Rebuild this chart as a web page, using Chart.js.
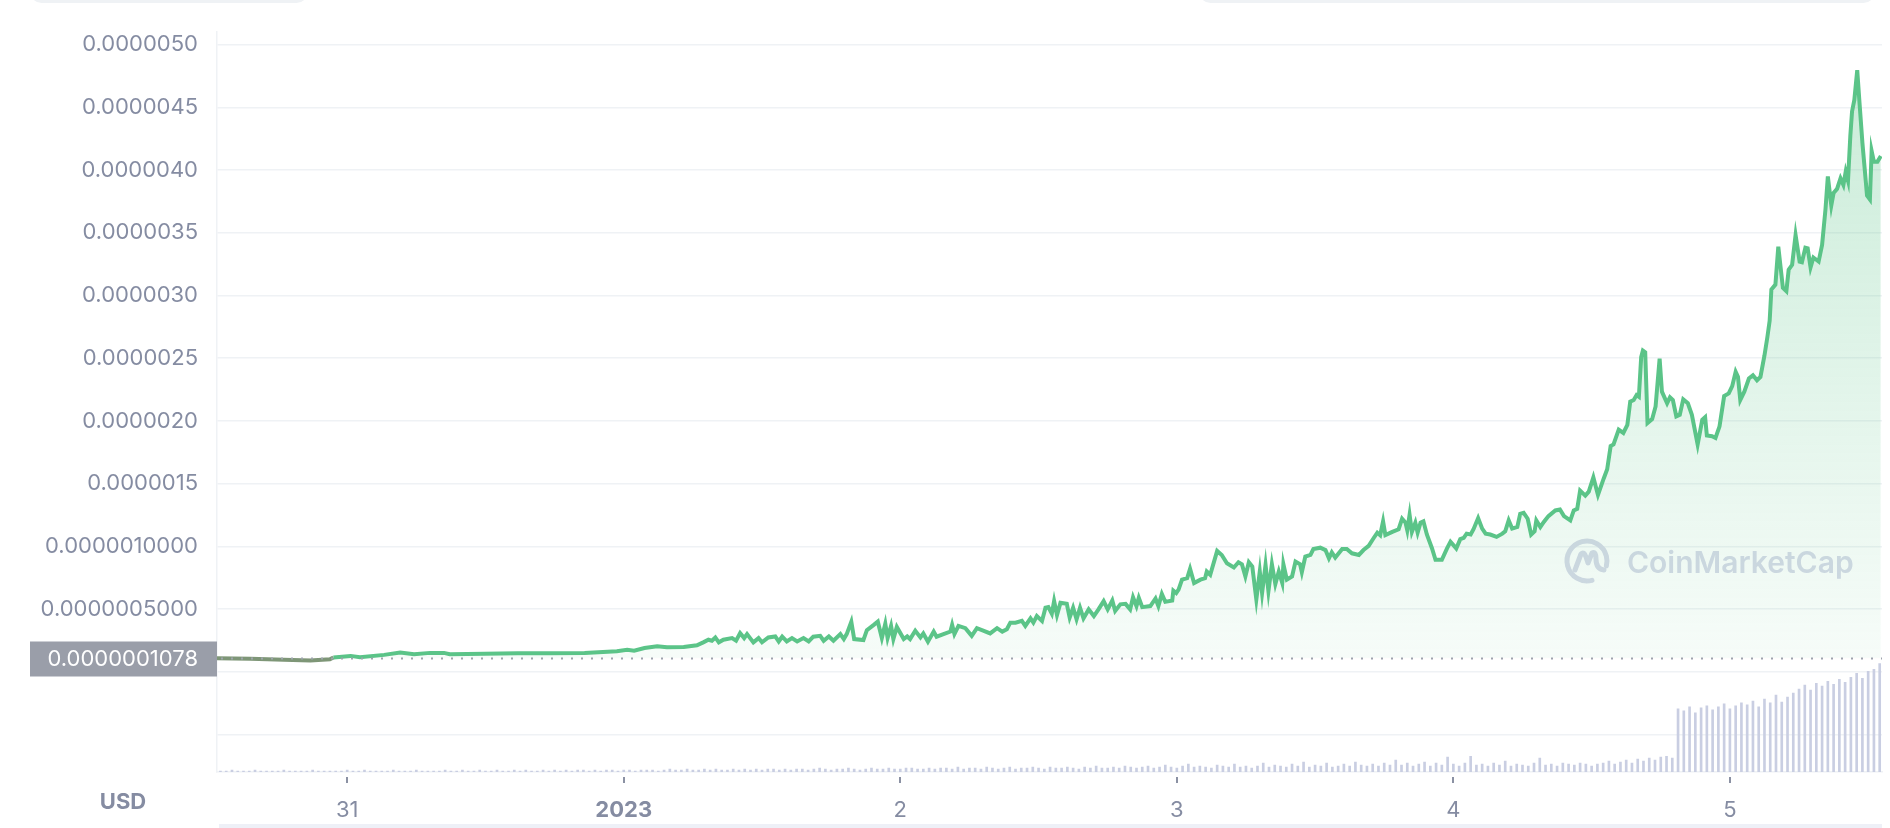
<!DOCTYPE html>
<html>
<head>
<meta charset="utf-8">
<script src="https://cdn.jsdelivr.net/npm/chart.js@4.4.0/dist/chart.umd.min.js"></script>
<style>
  body { margin: 0; background: #fff; overflow: hidden; }
  #wrap { position: relative; width: 1890px; height: 828px; }
  canvas { position: absolute; left: 0; top: 0; }
  .pill { position: absolute; top: -20px; height: 23px; background: #eff2f5; border-radius: 12px; }
  .slider { position: absolute; left: 219px; top: 824px; width: 1663px; height: 4px; background: #eef0f7; }
</style>
</head>
<body>
<div id="wrap">
  <div class="pill" style="left:30px;width:278px"></div>
  <div class="pill" style="left:1199px;width:676px"></div>
  <div class="slider"></div>
  <canvas id="priceChart" width="1890" height="828"></canvas>
</div>
<script>
// price in units of 1e-7 USD, time in hours from Dec 31 00:00
const basePrice = 1.078;
const basePriceLabel = '0.0000001078';

const hours = [
  -11.3, -8.4, -5.5, -3.2, -1.5, -1.2, 0.3, 1.1, 3.2, 4.6, 5.8, 7.2, 8.4, 8.9, 11.9, 14.8, 17.6, 20.6,
  23.4, 24.3, 24.9, 25.8, 26.9, 27.75, 29.2, 30.35, 30.9, 31.35, 31.65, 31.95, 32.25, 32.65, 33.4, 33.75,
  34.1, 34.45, 34.7, 35.25, 35.7, 36.0, 36.55, 37.15, 37.45, 37.75, 38.15, 38.6, 39.05, 39.6, 40.05, 40.45,
  41.05, 41.35, 41.8, 42.2, 42.8, 43.1, 43.35, 43.75, 44.0, 44.8, 45.1, 45.7, 46.05, 46.4, 46.7, 46.9,
  47.2, 47.4, 47.7, 48.3, 48.6, 48.85, 49.3, 49.75, 50.0, 50.4, 50.9, 51.15, 51.75, 52.35, 52.5, 52.7,
  53.05, 53.65, 54.2, 54.65, 55.25, 55.8, 56.4, 56.85, 57.25, 57.55, 58.0, 58.55, 58.85, 59.3, 59.55, 59.85,
  60.3, 60.6, 60.85, 61.15, 61.35, 61.6, 61.9, 62.45, 62.7, 63.0, 63.3, 63.6, 63.9, 64.35, 64.8, 65.2,
  65.65, 66.0, 66.4, 66.65, 67.1, 67.55, 67.95, 68.2, 68.5, 68.7, 69.0, 69.7, 70.15, 70.4, 70.7, 71.0,
  71.6, 71.7, 71.95, 72.15, 72.45, 72.9, 73.15, 73.5, 74.05, 74.45, 74.6, 74.9, 75.5, 75.9, 76.35, 76.95,
  77.35, 77.65, 77.95, 78.25, 78.55, 78.9, 79.2, 79.4, 79.7, 79.95, 80.25, 80.55, 80.85, 81.15, 81.25, 81.55,
  82.0, 82.3, 82.7, 82.85, 83.15, 83.6, 83.85, 84.45, 84.9, 85.2, 85.45, 85.75, 86.35, 86.75, 87.2, 87.8,
  88.2, 88.65, 89.1, 89.4, 89.65, 89.9, 90.1, 90.7, 91.25, 91.55, 91.85, 92.0, 92.2, 92.4, 92.7, 92.9,
  93.15, 93.4, 93.7, 94.15, 94.45, 95.0, 95.45, 95.75, 96.25, 96.6, 96.9, 97.15, 97.5, 97.75, 98.15, 98.5,
  98.8, 99.2, 99.75, 100.25, 100.5, 100.8, 101.1, 101.55, 101.8, 102.1, 102.45, 102.75, 103.05, 103.2, 103.55, 103.85,
  104.25, 104.85, 105.25, 105.6, 106.15, 106.45, 106.75, 107.0, 107.45, 107.75, 108.15, 108.55, 109.05, 109.35, 109.65, 109.9,
  110.35, 110.75, 111.1, 111.35, 111.65, 111.9, 112.1, 112.3, 112.45, 112.65, 112.85, 113.25, 113.55, 113.9, 114.1, 114.55,
  114.8, 115.05, 115.35, 115.65, 115.95, 116.35, 116.7, 117.2, 117.6, 117.85, 118.0, 118.45, 118.75, 119.1, 119.5, 119.9,
  120.2, 120.5, 120.7, 120.9, 121.25, 121.65, 122.0, 122.35, 122.65, 123.0, 123.25, 123.45, 123.6, 123.95, 124.2, 124.6,
  124.9, 125.1, 125.4, 125.7, 126.05, 126.25, 126.55, 126.75, 127.0, 127.25, 127.7, 128.0, 128.3, 128.5, 128.8, 129.0,
  129.3, 129.6, 129.85, 130.05, 130.25, 130.45, 130.6, 130.8, 131.05, 131.25, 131.5, 131.7, 131.9, 132.15, 132.3, 132.5,
  132.8, 133.1
];

const price = [
  1.078, 1.03, 0.95, 0.89, 0.99, 1.13, 1.26, 1.15, 1.34, 1.52, 1.39, 1.50, 1.50, 1.39, 1.44, 1.47, 1.47, 1.50,
  1.63, 1.74, 1.68, 1.89, 2.02, 1.94, 1.97, 2.10, 2.34, 2.55, 2.47, 2.73, 2.34, 2.55, 2.68, 2.47,
  3.08, 2.68, 3.00, 2.34, 2.68, 2.34, 2.73, 2.81, 2.41, 2.79, 2.41, 2.68, 2.41, 2.68, 2.41, 2.79,
  2.86, 2.47, 2.81, 2.47, 3.00, 2.60, 3.00, 3.99, 2.60, 2.52, 3.31, 3.73, 3.99, 2.68, 3.83, 2.68,
  3.65, 2.60, 3.57, 2.60, 2.81, 2.60, 3.26, 2.73, 3.05, 2.39, 3.20, 2.79, 3.00, 3.20, 3.73, 3.00,
  3.65, 3.47, 2.86, 3.47, 3.26, 3.05, 3.47, 3.20, 3.39, 3.91, 3.91, 4.05, 3.65, 4.26, 3.91, 4.44,
  4.05, 5.10, 5.15, 4.62, 5.63, 4.52, 5.49, 5.41, 4.31, 5.10, 4.18, 5.10, 4.26, 4.97, 4.44, 4.97,
  5.63, 4.97, 5.68, 4.84, 5.37, 5.41, 4.97, 5.94, 5.23, 5.89, 5.15, 5.23, 5.84, 5.23, 6.20, 5.57,
  5.68, 6.47, 6.28, 6.55, 7.34, 7.46, 8.21, 7.07, 7.34, 7.46, 7.99, 7.73, 9.63, 9.31, 8.65, 8.31,
  8.73, 8.57, 7.60, 8.73, 8.39, 5.76, 7.99, 6.28, 8.52, 6.41, 8.57, 6.99, 7.99, 7.07, 8.57, 7.34,
  7.60, 8.78, 8.57, 7.94, 9.18, 9.31, 9.78, 9.89, 9.70, 9.04, 9.52, 9.10, 9.78, 9.78, 9.44, 9.31,
  9.70, 10.04, 10.68, 11.09, 10.89, 11.99, 10.89, 11.15, 11.36, 12.20, 11.88, 11.28, 12.51, 11.15, 11.88, 11.09,
  11.88, 11.99, 10.94, 9.83, 8.92, 8.92, 9.83, 10.36, 9.83, 10.57, 10.68, 11.01, 10.94, 11.36, 12.25, 11.41,
  11.01, 10.94, 10.75, 11.01, 11.20, 12.07, 11.41, 11.54, 12.59, 12.67, 12.20, 10.94, 11.20, 12.07, 11.54, 11.94,
  12.41, 12.86, 12.94, 12.41, 12.07, 12.86, 12.99, 14.44, 14.04, 14.36, 15.49, 14.09, 15.41, 16.14, 17.99, 18.12,
  19.30, 19.04, 19.69, 21.54, 21.67, 22.06, 21.93, 25.09, 25.61, 25.48, 19.83, 20.14, 21.15, 24.96, 22.33, 21.41,
  21.88, 21.67, 20.36, 20.48, 21.72, 21.41, 20.48, 18.12, 20.09, 20.30, 18.83, 18.78, 18.64, 19.57, 21.98, 22.19,
  22.77, 23.91, 23.51, 21.67, 22.33, 23.38, 23.64, 23.24, 23.51, 25.22, 26.67, 27.98, 30.48, 30.87, 33.90, 30.61,
  30.34, 32.06, 32.45, 34.82, 32.71, 32.66, 33.82, 33.77, 32.24, 33.03, 32.71, 34.03, 36.93, 39.50, 37.19, 38.19,
  38.50, 39.34, 38.82, 39.87, 39.16, 42.71, 44.68, 45.60, 47.97, 45.34, 42.18, 40.08, 37.97, 37.66, 41.53, 40.66,
  40.66, 41.13
];

// volume bars every 30 minutes starting at -11 h (arbitrary units)
const volStart = -11;
const volStep = 0.5;
const volume = [
  1,1,2,1,1,1,2,1,1,1, 1,2,1,1,1,1,2,1,1,1, 1,1,2,1,1,2,1,1,1,1, 2,1,1,1,2,1,1,1,1,2,
  1,1,2,1,1,2,1,1,2,1, 1,2,1,2,1,1,2,1,2,1, 2,1,2,2,1,2,1,2,2,1, 2,2,1,2,2,2,1,2,3,2,
  2,3,2,2,3,2,3,2,2,3, 2,3,2,3,2,3,3,2,3,2, 3,3,2,3,4,3,2,3,3,4, 3,2,3,4,3,3,4,3,3,4,
  4,3,3,4,3,4,4,3,5,3, 4,4,3,5,4,3,4,5,3,4, 4,5,4,3,5,4,4,5,4,3, 5,4,6,4,4,5,4,6,5,4,
  5,6,4,5,7,5,4,6,8,5, 6,5,4,7,6,5,8,5,6,4, 6,9,5,7,6,5,8,6,10,5, 7,6,9,5,6,8,6,10,7,6,
  8,6,9,7,12,7,9,6,8,10, 6,9,7,15,8,6,9,16,7,8, 6,9,7,11,6,8,7,6,9,14, 7,8,6,9,8,7,9,8,6,8,
  9,11,8,10,12,9,13,11,14,12,15,16,14,
  64,62,66,60,65,67,63,66,69,64, 67,70,68,72,66,74,70,78,71,76, 80,84,88,83,90,87,92,89,94,91, 96,100,95,102,104,110
];

const priceTicks = [-5, 0, 5, 10, 15, 20, 25, 30, 35, 40, 45, 50];
const priceTickLabels = ['', '', '0.0000005000', '0.0000010000', '0.0000015', '0.0000020', '0.0000025',
  '0.0000030', '0.0000035', '0.0000040', '0.0000045', '0.0000050'];

const dayTicks = [0, 24, 48, 72, 96, 120];
const dayLabels = ['31', '2023', '2', '3', '4', '5'];
const boldLabel = '2023';

const GREEN = '#5bc488';
const GRID = '#eff2f5';
const TEXT = '#858ca2';
const WATERMARK = '#d6d9e8';

Chart.defaults.font.family = 'Inter, "Noto Sans", sans-serif';
Chart.defaults.font.size = 22;
Chart.defaults.color = TEXT;

const decorPlugin = {
  id: 'decor',
  beforeDatasetsDraw(chart) {
    // CoinMarketCap watermark
    const ctx = chart.ctx;
    const cx = 1587, cy = 561;
    ctx.save();
    ctx.strokeStyle = WATERMARK;
    ctx.fillStyle = WATERMARK;
    ctx.lineWidth = 5;
    ctx.lineCap = 'round';
    ctx.lineJoin = 'round';
    ctx.beginPath();
    ctx.arc(cx, cy, 20, 0.42 * Math.PI, 2.08 * Math.PI);
    ctx.stroke();
    ctx.beginPath();
    ctx.moveTo(cx - 12, cy + 9);
    ctx.lineTo(cx - 6, cy - 7);
    ctx.quadraticCurveTo(cx - 3, cy - 10, cx - 1, cy - 4);
    ctx.lineTo(cx + 1, cy + 2);
    ctx.lineTo(cx + 5, cy - 8);
    ctx.quadraticCurveTo(cx + 9, cy - 10, cx + 9, cy - 2);
    ctx.quadraticCurveTo(cx + 9, cy + 8, cx + 17, cy + 9);
    ctx.stroke();
    ctx.font = '600 30px Inter, sans-serif';
    ctx.textBaseline = 'middle';
    ctx.textAlign = 'left';
    ctx.fillText('CoinMarketCap', 1627, 564);
    ctx.restore();
  },
  afterDatasetsDraw(chart) {
    const { ctx, chartArea, scales } = chart;
    const y = Math.round(scales.y.getPixelForValue(basePrice)) + 0.5;
    ctx.save();
    // dotted line at the opening price
    ctx.strokeStyle = '#9ea3ae';
    ctx.lineWidth = 2;
    ctx.setLineDash([2, 8]);
    ctx.beginPath();
    ctx.moveTo(chartArea.left + 4, y);
    ctx.lineTo(chartArea.right, y);
    ctx.stroke();
    ctx.setLineDash([]);
    // price label box on the axis
    ctx.fillStyle = '#9a9ea9';
    ctx.fillRect(30, y - 17, chartArea.left - 30, 35);
    ctx.fillStyle = '#ffffff';
    ctx.font = '22px Inter, sans-serif';
    ctx.textAlign = 'right';
    ctx.textBaseline = 'middle';
    ctx.fillText(basePriceLabel, chartArea.left - 19, y + 1);
    ctx.restore();
  },
  afterDraw(chart) {
    const { ctx, chartArea, scales } = chart;
    ctx.save();
    ctx.strokeStyle = '#8b91a3';
    ctx.lineWidth = 2;
    dayTicks.forEach(t => {
      const x = Math.round(scales.x.getPixelForValue(t));
      ctx.beginPath();
      ctx.moveTo(x, chartArea.bottom + 5);
      ctx.lineTo(x, chartArea.bottom + 11);
      ctx.stroke();
    });
    ctx.fillStyle = TEXT;
    ctx.font = 'bold 22px Inter, sans-serif';
    ctx.textAlign = 'center';
    ctx.textBaseline = 'middle';
    ctx.fillText('USD', 123, 802);
    ctx.restore();
  }
};

const ctx = document.getElementById('priceChart').getContext('2d');

new Chart(ctx, {
  type: 'line',
  data: {
    datasets: [
      {
        type: 'line',
        label: 'Price',
        data: hours.map((h, i) => ({ x: h, y: price[i] })),
        yAxisID: 'y',
        order: 1,
        borderColor: GREEN,
        borderWidth: 4,
        pointRadius: 0,
        tension: 0,
        segment: {
          borderColor: c => ((c.p0.parsed.y + c.p1.parsed.y) / 2 < basePrice ? '#7e9677' : undefined)
        },
        backgroundColor: c => {
          const area = c.chart.chartArea;
          if (!area) return 'rgba(0,0,0,0)';
          const g = c.chart.ctx.createLinearGradient(0, area.top, 0, area.bottom);
          g.addColorStop(0, 'rgba(91,196,136,0.34)');
          g.addColorStop(1, 'rgba(91,196,136,0.0)');
          return g;
        },
        fill: { target: { value: basePrice }, below: 'rgba(234,57,67,0.05)' }
      },
      {
        type: 'bar',
        label: 'Volume',
        data: volume.map((v, i) => ({ x: volStart + i * volStep, y: v })),
        yAxisID: 'yv',
        order: 2,
        backgroundColor: '#c9cee2',
        barThickness: 2,
        grouped: false
      }
    ]
  },
  options: {
    responsive: false,
    animation: false,
    layout: { padding: { left: 0, right: 8, top: 24, bottom: 0 } },
    plugins: {
      legend: { display: false },
      tooltip: { enabled: false }
    },
    scales: {
      x: {
        type: 'linear',
        min: -11.3,
        max: 133.2,
        offset: false,
        afterFit: s => { s.height = 56; },
        afterBuildTicks: s => { s.ticks = dayTicks.map(v => ({ value: v })); },
        grid: { display: false, offset: false },
        border: { display: true, color: GRID, width: 1.5 },
        ticks: {
          padding: 17,
          maxRotation: 0,
          autoSkip: false,
          color: TEXT,
          font: c => ({ size: 22, weight: dayLabels[c.index] === boldLabel ? 'bold' : 'normal' }),
          callback: (v, i) => dayLabels[i]
        }
      },
      y: {
        type: 'linear',
        position: 'left',
        min: -8,
        max: 51,
        afterFit: s => { s.width = 217; },
        afterBuildTicks: s => { s.ticks = priceTicks.map(v => ({ value: v })); },
        grid: { color: GRID, lineWidth: 1.5, drawTicks: false },
        border: { display: true, color: GRID, width: 1.5 },
        ticks: {
          padding: 19,
          color: TEXT,
          callback: (v, i) => priceTickLabels[i]
        }
      },
      yv: {
        type: 'linear',
        display: false,
        min: 0,
        max: 750
      }
    }
  },
  plugins: [decorPlugin]
});
</script>
</body>
</html>
